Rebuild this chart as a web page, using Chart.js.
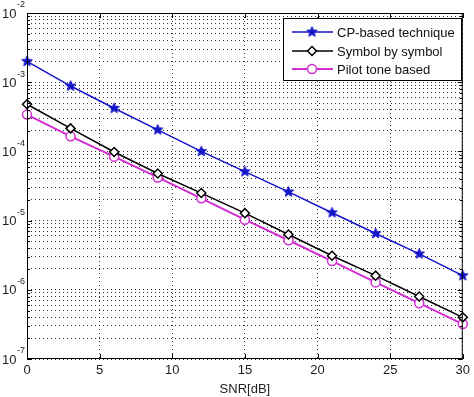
<!DOCTYPE html>
<html lang="en">
  <head>
    <meta charset="UTF-8" />
    <title>BER vs SNR</title>
    <script src="https://cdn.jsdelivr.net/npm/chart.js@4/dist/chart.umd.min.js"></script>
    <style>
      body { margin: 0; background: #fff; }
      #berChart { display: block; }
    </style>
  </head>
  <body>
    <canvas id="berChart" width="474" height="397"></canvas>
    <script>
      // data
      const snr = [0, 3, 6, 9, 12, 15, 18, 21, 24, 27, 30];
      const cpBased = [2.0e-3, 8.8e-4, 4.2e-4, 2.05e-4, 1.0e-4, 5.1e-5, 2.6e-5, 1.3e-5, 6.5e-6, 3.3e-6, 1.6e-6];
      const symbolBySymbol = [4.8e-4, 2.15e-4, 9.8e-5, 4.8e-5, 2.5e-5, 1.28e-5, 6.3e-6, 3.1e-6, 1.6e-6, 8.0e-7, 4.0e-7];
      const pilotTone = [3.4e-4, 1.65e-4, 8.4e-5, 4.2e-5, 2.1e-5, 1.03e-5, 5.2e-6, 2.6e-6, 1.28e-6, 6.4e-7, 3.2e-7];
      const seriesNames = ["CP-based technique", "Symbol by symbol", "Pilot tone based"];
      const xTicks = [0, 5, 10, 15, 20, 25, 30];
      const yDecades = [-7, -6, -5, -4, -3, -2];

      const FONT = "Liberation Sans, Arial, sans-serif";
      const BLUE = "#1414c8";
      const BLACK = "#000000";
      const MAGENTA = "#d22ed2";

      // filled pentagram marker
      function makeStar(r, color) {
        const c = document.createElement("canvas");
        const s = Math.ceil(r * 2 + 4);
        c.width = s;
        c.height = s;
        const g = c.getContext("2d");
        g.translate(s / 2, s / 2);
        g.beginPath();
        for (let i = 0; i < 10; i++) {
          const rad = i % 2 === 0 ? r : r * 0.42;
          const a = -Math.PI / 2 + (i * Math.PI) / 5;
          if (i === 0) g.moveTo(rad * Math.cos(a), rad * Math.sin(a));
          else g.lineTo(rad * Math.cos(a), rad * Math.sin(a));
        }
        g.closePath();
        g.fillStyle = color;
        g.fill();
        g.lineWidth = 1;
        g.strokeStyle = color;
        g.stroke();
        return c;
      }
      const starImg = makeStar(5.5, BLUE);

      function pts(arr) {
        return arr.map((v, i) => ({ x: snr[i], y: v }));
      }

      const yTickValues = [];
      yDecades.forEach((d) => {
        for (let m = 1; m <= 9; m++) {
          if (d === -2 && m > 1) break;
          yTickValues.push(m * Math.pow(10, d));
        }
      });

      const matlabAxes = {
        id: "matlabAxes",
        afterDraw(chart) {
          const ctx = chart.ctx;
          const a = chart.chartArea;
          const xs = chart.scales.x;
          const ys = chart.scales.y;
          ctx.save();
          // box
          ctx.strokeStyle = "#000";
          ctx.lineWidth = 1;
          ctx.setLineDash([]);
          ctx.strokeRect(a.left + 0.5, a.top + 0.5, a.right - a.left - 1, a.bottom - a.top - 1);
          // inward ticks
          ctx.beginPath();
          xTicks.forEach((v) => {
            const px = Math.round(xs.getPixelForValue(v)) + 0.5;
            ctx.moveTo(px, a.bottom);
            ctx.lineTo(px, a.bottom - 5);
            ctx.moveTo(px, a.top);
            ctx.lineTo(px, a.top + 5);
          });
          yTickValues.forEach((v) => {
            const py = Math.round(ys.getPixelForValue(v)) + 0.5;
            const major = Math.abs(Math.log10(v) - Math.round(Math.log10(v))) < 1e-9;
            const len = major ? 5 : 3;
            ctx.moveTo(a.left, py);
            ctx.lineTo(a.left + len, py);
            ctx.moveTo(a.right, py);
            ctx.lineTo(a.right - len, py);
          });
          ctx.stroke();

          // y labels 10^n
          ctx.fillStyle = "#222";
          ctx.textBaseline = "middle";
          yDecades.forEach((d) => {
            const py = ys.getPixelForValue(Math.pow(10, d));
            ctx.font = "13px " + FONT;
            ctx.textAlign = "left";
            ctx.fillText("10", 2, py + 1);
            ctx.font = "9px " + FONT;
            ctx.fillText(String(d), 17, py - 8);
          });

          // legend
          const lx = 283, ly = 18, lw = 178, lh = 62;
          ctx.fillStyle = "#fff";
          ctx.fillRect(lx, ly, lw, lh);
          ctx.strokeStyle = "#000";
          ctx.lineWidth = 1;
          ctx.strokeRect(lx + 0.5, ly + 0.5, lw, lh);
          const rows = [32, 51, 69];
          chart.data.datasets.forEach((ds, i) => {
            const y = rows[i];
            ctx.strokeStyle = ds.borderColor;
            ctx.lineWidth = ds.borderWidth;
            ctx.beginPath();
            ctx.moveTo(292, y);
            ctx.lineTo(333, y);
            ctx.stroke();
            const style = ds.pointStyle;
            if (style instanceof HTMLCanvasElement) {
              ctx.drawImage(style, 312 - style.width / 2, y - style.height / 2);
            } else {
              ctx.fillStyle = ds.backgroundColor;
              ctx.strokeStyle = ds.borderColor;
              ctx.lineWidth = ds.pointBorderWidth;
              Chart.helpers.drawPoint(
                ctx,
                { pointStyle: style, radius: ds.pointRadius, borderWidth: ds.pointBorderWidth },
                312,
                y
              );
            }
            ctx.fillStyle = "#111";
            ctx.font = "13px " + FONT;
            ctx.textAlign = "left";
            ctx.textBaseline = "middle";
            ctx.fillText(ds.label, 337, y + 1);
          });
          ctx.restore();
        },
      };

      const ctx = document.querySelector("#berChart").getContext("2d");
      const myChart = new Chart(ctx, {
        type: "line",
        data: {
          datasets: [
            {
              label: seriesNames[0],
              data: pts(cpBased),
              borderColor: BLUE,
              backgroundColor: BLUE,
              borderWidth: 1.5,
              pointStyle: starImg,
              pointRadius: 5.5,
              clip: false,
            },
            {
              label: seriesNames[1],
              data: pts(symbolBySymbol),
              borderColor: BLACK,
              backgroundColor: "#fff",
              borderWidth: 1.5,
              pointStyle: "rectRot",
              pointRadius: 4.5,
              pointBorderWidth: 1.5,
              clip: false,
            },
            {
              label: seriesNames[2],
              data: pts(pilotTone),
              borderColor: MAGENTA,
              backgroundColor: "#fff",
              borderWidth: 2,
              pointStyle: "circle",
              pointRadius: 4.5,
              pointBorderWidth: 1.5,
              clip: false,
            },
          ],
        },
        options: {
          responsive: false,
          animation: false,
          events: [],
          layout: { padding: { top: 13, right: 8, left: 0, bottom: 0 } },
          plugins: { legend: { display: false }, tooltip: { enabled: false } },
          elements: { line: { tension: 0 } },
          scales: {
            x: {
              type: "linear",
              min: 0,
              max: 30,
              afterBuildTicks: (scale) => {
                scale.ticks = xTicks.map((v) => ({ value: v }));
              },
              afterFit: (scale) => {
                scale.height = 38;
              },
              grid: { color: "#333", drawTicks: false, lineWidth: 1 },
              border: { display: false, dash: [1, 3] },
              ticks: { color: "#222", font: { family: FONT, size: 13 }, padding: 4, maxRotation: 0 },
              title: {
                display: true,
                text: "SNR[dB]",
                color: "#222",
                font: { family: FONT, size: 13 },
                padding: { top: 0, bottom: 0 },
              },
            },
            y: {
              type: "logarithmic",
              min: 1e-7,
              max: 1e-2,
              afterBuildTicks: (scale) => {
                scale.ticks = yTickValues.map((v) => ({ value: v }));
              },
              afterFit: (scale) => {
                scale.width = 27;
              },
              grid: { color: "#333", drawTicks: false, lineWidth: 1 },
              border: { display: false, dash: [1, 3] },
              ticks: { display: false, autoSkip: false },
            },
          },
        },
        plugins: [matlabAxes],
      });
    </script>
  </body>
</html>
